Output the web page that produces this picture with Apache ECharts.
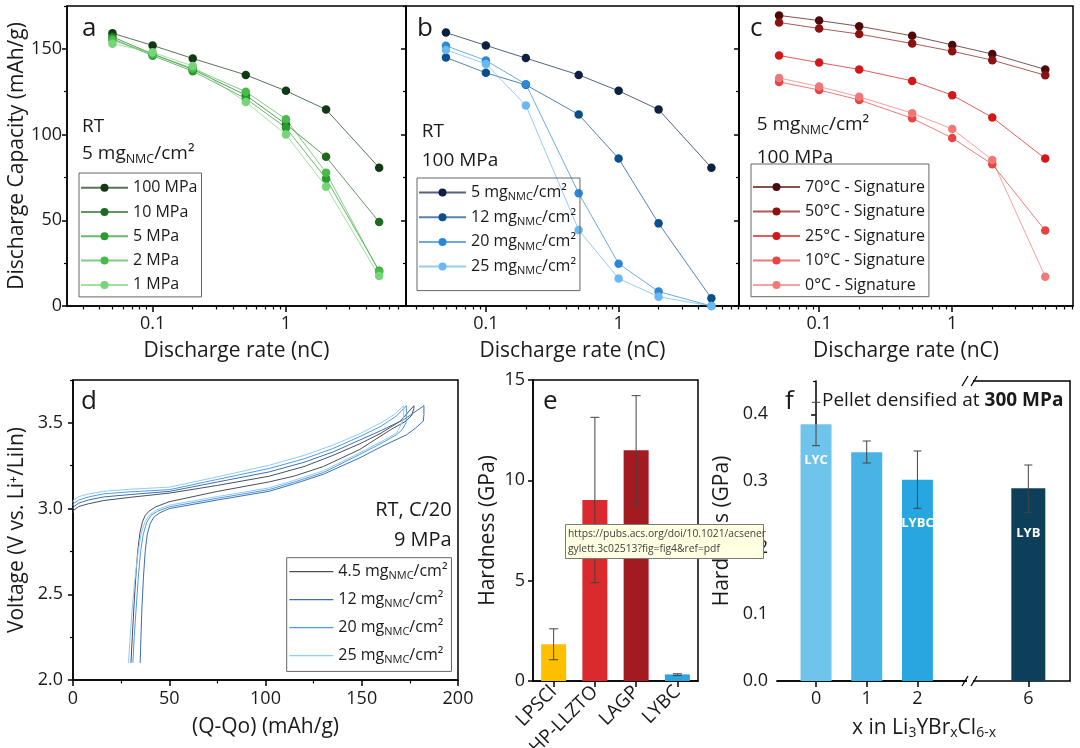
<!DOCTYPE html>
<html><head><meta charset="utf-8">
<script src="https://cdn.jsdelivr.net/npm/echarts@6/dist/echarts.min.js"></script>
<style>html,body{margin:0;padding:0;background:#fff}#c{width:1080px;height:748px}</style>
</head><body><div id="c"></div>
<script>
// ---------- DATA ----------
const rates = [0.05, 0.1, 0.2, 0.5, 1, 2, 5];
const rateTicks = [0.1, 1];
const rateMinorTicks = [0.03,0.04,0.05,0.06,0.07,0.08,0.09,0.2,0.3,0.4,0.5,0.6,0.7,0.8,0.9,2,3,4,5,6,7,8];
// panel a (pressure)
const aLabels = ['100 MPa','10 MPa','5 MPa','2 MPa','1 MPa'];
const a100 = [159.1,152,144.4,134.8,125.5,114.6,80.7];
const a10  = [157,147,138,123,106,87,49];
const a5   = [156,146,137,121,104,74.3,20.6];
const a2   = [155,147,138.5,125,109,77.8,20];
const a1   = [153,148,140,119,100,69.6,17.5];
// panel b (loading)
const bLabels = ['5','12','20','25'];
const b5  = [159.5,152,144.6,134.8,125.5,114.6,80.7];
const b12 = [145,136,129,111.7,86,48.2,4.5];
const b20 = [151.8,143.2,129.4,65.8,24.7,8.4,0];
const b25 = [149.4,141.2,117,44.4,16,5.4,0];
// panel c (temperature)
const cLabels = ['70°C - Signature','50°C - Signature','25°C - Signature','10°C - Signature','0°C - Signature'];
const c70 = [169.5,166.5,163.2,157.6,152.3,147,138];
const c50 = [165.4,161.9,158.6,153.1,148.6,143.4,134.6];
const c25 = [146.1,142,138,131.3,123,110,86];
const c10 = [130.7,126,120.2,109.5,98,82.7,44];
const c0  = [133,128,122,112.5,103.3,85.2,17.1];
const capTicks = [0,50,100,150];
const capMinor = [25,75,125,175];
// panel d (voltage profiles, [Q-Qo, V])
const dLabels = ['4.5','12','20','25'];
const d45 = [[0,2.975],[0.3,2.99],[1,3.0],[3,3.012],[8,3.028],[16,3.047],[30,3.066],[50,3.09],[75,3.135],[102,3.189],[120,3.245],[135,3.31],[149,3.378],[160,3.44],[170,3.51],[177.1,3.6],
 [177.1,3.585],[176,3.545],[173,3.51],[165,3.46],[149,3.345],[130,3.245],[115,3.19],[102,3.156],[75,3.1],[50,3.04],[43,3.01],[39.5,2.985],[37.5,2.96],[36,2.92],[34.8,2.86],[33.6,2.75],[32.6,2.6],[31.6,2.42],[30.8,2.25],[30.1,2.1]];
const d12 = [[0,2.995],[0.3,3.01],[1,3.02],[3,3.032],[8,3.05],[16,3.068],[30,3.082],[50,3.1],[75,3.155],[102,3.214],[120,3.27],[135,3.33],[149,3.4],[160,3.455],[172,3.52],[182.3,3.6],
 [182.3,3.55],[182,3.51],[178,3.47],[173.2,3.43],[160,3.36],[149,3.296],[130,3.2],[115,3.145],[102,3.101],[75,3.05],[50,3.0],[45,2.975],[42,2.95],[40,2.91],[38.6,2.85],[37.5,2.75],[36.6,2.6],[35.8,2.42],[35.3,2.25],[34.9,2.1]];
const d20 = [[0,3.015],[0.3,3.03],[1,3.04],[3,3.05],[8,3.068],[16,3.086],[30,3.098],[50,3.11],[75,3.17],[102,3.234],[120,3.29],[135,3.35],[149,3.42],[160,3.48],[168,3.54],[173.2,3.6],
 [173.2,3.56],[173,3.5],[171,3.46],[168,3.43],[160,3.38],[149,3.316],[130,3.21],[115,3.155],[102,3.111],[75,3.06],[50,3.01],[44,2.985],[40.5,2.96],[38.3,2.92],[36.5,2.85],[35,2.74],[33.8,2.58],[32.7,2.4],[31.8,2.25],[31.1,2.1]];
const d25 = [[0,3.035],[0.3,3.05],[1,3.06],[3,3.07],[8,3.085],[16,3.101],[30,3.113],[50,3.125],[75,3.185],[102,3.253],[120,3.31],[135,3.37],[149,3.437],[160,3.5],[167,3.55],[171.8,3.6],
 [171.8,3.57],[171.5,3.52],[170,3.48],[168,3.44],[160,3.39],[149,3.325],[130,3.22],[115,3.165],[102,3.121],[75,3.07],[50,3.02],[43,2.99],[39.5,2.96],[37.3,2.92],[35.3,2.85],[33.5,2.72],[31.8,2.55],[30.5,2.38],[29.5,2.22],[28.8,2.1]];
const dXTicks = [0,50,100,150,200];
const dXMinor = [25,75,125,175];
const dYTicks = [2.0,2.5,3.0,3.5];
const dYMinor = [2.25,2.75,3.25,3.75];
// panel e
const eCats = ['LPSCl','HP-LLZTO','LAGP','LYBC'];
const eVals = [1.83,9.02,11.5,0.33];
const eLo = [1.06,4.9,8.78,0.27];
const eHi = [2.6,13.14,14.22,0.36];
const eYTicks = [0,5,10,15];
// panel f
const fX1 = [0,1,2];
const fV1 = [0.385,0.343,0.302];
const fLo1 = [0.353,0.327,0.259];
const fHi1 = [0.418,0.36,0.345];
const fNames1 = ['LYC','','LYBC'];
const fX2 = [6];
const fV2 = [0.289];
const fLo2 = [0.253];
const fHi2 = [0.324];
const fNames2 = ['LYB'];
const fYTicks = [0,0.1,0.2,0.3,0.4];
const fYMinor = [0.05,0.15,0.25,0.35,0.45];

// ---------- STYLE ----------
const FONT = 'Open Sans';
const TXT = '#1a1a1a';
const aColors = ['#113a14','#1e6a22','#2b9b2e','#48bb4a','#78d47a'];
const bColors = ['#0c2140','#0b4f8d','#2b88d8','#68b9ef'];
const cColors = ['#4c0a0a','#8c1212','#d21818','#e64343','#f27878'];
const dColors = ['#4a4f5a','#3d6fae','#4c9de2','#94caf2'];
const eColors = ['#fdbf00','#da2a2d','#a31b20','#2ea3e0'];
const fColors1 = ['#6fc4ec','#49b3e6','#28a6e0'];
const fColors2 = ['#0d3f5b'];

const grids = [], xAxes = [], yAxes = [], series = [], legends = [], graphics = [];
const AX = {show:true, lineStyle:{color:'#000', width:1.5}};
function grid(l,t,w,h,border){grids.push({left:l,top:t,width:w,height:h,show:border,borderColor:'#000',borderWidth:1.5,containLabel:false,outerBoundsMode:'none'});return grids.length-1;}
function nameStyle(){return {fontSize:21,color:TXT,fontFamily:FONT};}
function lab(extra){return Object.assign({show:true,fontSize:18,color:TXT,fontFamily:FONT},extra);}
function tickAxis(list, base, major, minor, majorLen, minorLen){
  const m = Object.assign({}, base, {axisTick:{show:true,length:majorLen,lineStyle:{color:'#000',width:1.5},customValues:major,alignWithLabel:true}});
  list.push(m); const idx = list.length-1;
  if (minor) {
    list.push({type:base.type, logBase:base.logBase, gridIndex:base.gridIndex, min:base.min, max:base.max, position:base.position,
      axisLine:{show:false}, axisLabel:{show:false}, splitLine:{show:false},
      axisTick:{show:true,length:minorLen,lineStyle:{color:'#000',width:1.2},customValues:minor}});
  }
  return idx;
}
function logX(g,min,max){
  return tickAxis(xAxes,{type:'log',logBase:10,gridIndex:g,min,max,position:'bottom',axisLine:AX,splitLine:{show:false},
    axisLabel:lab({customValues:rateTicks,margin:9,formatter:v=>String(+(+v).toPrecision(3))}),
    name:'Discharge rate (nC)',nameLocation:'middle',nameGap:35,nameMoveOverlap:false,nameTextStyle:nameStyle()},rateTicks,rateMinorTicks,6,3.5);
}
function capY(g,withLabels){
  const base={type:'value',gridIndex:g,min:0,max:175,position:'left',axisLine:AX,splitLine:{show:false},
    axisLabel:lab({show:withLabels,customValues:capTicks,margin:5})};
  if(withLabels){Object.assign(base,{name:'Discharge Capacity (mAh/g)',nameLocation:'middle',nameGap:39,nameMoveOverlap:false,nameTextStyle:nameStyle()});}
  return tickAxis(yAxes,base,capTicks,capMinor,5,3);
}
function rateSeries(key,xi,yi,vals,color){
  series.push({type:'line',name:key,xAxisIndex:xi,yAxisIndex:yi,data:rates.map((r,i)=>[r,vals[i]]),
    symbol:'circle',symbolSize:8.5,itemStyle:{color},lineStyle:{color,width:1,opacity:0.7},emphasis:{disabled:true},z:3});
}
function errSeries(xi,yi,data,cap,color){
  series.push({type:'custom',xAxisIndex:xi,yAxisIndex:yi,data,encode:{x:0,y:[1,2]},z:6,silent:true,
    renderItem:(p,api)=>{const x=api.value(0),lo=api.value(1),hi=api.value(2);
      const a=api.coord([x,lo]),b=api.coord([x,hi]);const st={stroke:color,lineWidth:1};
      return {type:'group',children:[
        {type:'line',shape:{x1:a[0],y1:a[1],x2:b[0],y2:b[1]},style:st},
        {type:'line',shape:{x1:a[0]-cap,y1:a[1],x2:a[0]+cap,y2:a[1]},style:st},
        {type:'line',shape:{x1:b[0]-cap,y1:b[1],x2:b[0]+cap,y2:b[1]},style:st}]};}});
}
const subRich = {n:{fontSize:16,lineHeight:20,fontFamily:FONT,color:TXT},s:{fontSize:11,lineHeight:10,verticalAlign:'bottom',fontFamily:FONT,color:TXT}};
function legend(cfg){legends.push(Object.assign({orient:'vertical',selectedMode:false,borderColor:'#666',borderWidth:1,
  itemWidth:47,itemHeight:10,textStyle:{fontSize:16,lineHeight:20,color:TXT,fontFamily:FONT,rich:subRich}},cfg));}
function txt(x,y,text,o){graphics.push({type:'text',x,y,z:50,silent:true,style:Object.assign({text,fontSize:19,fontFamily:FONT,fill:TXT,
  align:'left',verticalAlign:'middle',textAlign:'left',textVerticalAlign:'middle',lineHeight:24,
  rich:{s:{fontSize:12.5,lineHeight:10,verticalAlign:'bottom',fontFamily:FONT,fill:TXT,color:TXT},
        s2:{fontSize:14,lineHeight:10,verticalAlign:'bottom',fontFamily:FONT,fill:TXT,color:TXT},
        b:{fontSize:19,fontWeight:'bold',fontFamily:FONT,fill:TXT,color:TXT,lineHeight:24}}},o||{})});}

// ---------- PANEL a ----------
const ga = grid(67,6,339,300,true);
const xa = logX(ga,0.0228,7.95), ya = capY(ga,true);
const aKeys = ['a100','a10','a5','a2','a1'];
[a100,a10,a5,a2,a1].forEach((v,i)=>rateSeries(aKeys[i],xa,ya,v,aColors[i]));
legend({left:79,top:173,data:aKeys,itemGap:8.3,padding:[6.7,4,4,1],textStyle:{fontSize:16,lineHeight:16,color:TXT,fontFamily:FONT},
  formatter:n=>aLabels[aKeys.indexOf(n)]});
// ---------- PANEL b ----------
const gb = grid(406,6,333,300,true);
const xb = logX(gb,0.025,8.07), yb = capY(gb,false);
const bKeys = ['b5','b12','b20','b25'];
[b5,b12,b20,b25].forEach((v,i)=>rateSeries(bKeys[i],xb,yb,v,bColors[i]));
legend({left:417,top:178,data:bKeys,itemGap:4.7,padding:[4.5,4,14,1],
  formatter:n=>bLabels[bKeys.indexOf(n)]+' mg{s|NMC}/cm²'});
// ---------- PANEL c ----------
const gc = grid(739,6,334,300,true);
const xc = logX(gc,0.025,8.08), yc = capY(gc,false);
const cKeys = ['c70','c50','c25','c10','c0'];
[c70,c50,c25,c10,c0].forEach((v,i)=>rateSeries(cKeys[i],xc,yc,v,cColors[i]));
legend({left:751,top:164,data:cKeys,itemGap:8.5,padding:[15,4,3.7,1],textStyle:{fontSize:16,lineHeight:16,color:TXT,fontFamily:FONT},
  formatter:n=>cLabels[cKeys.indexOf(n)]});
// ---------- PANEL d ----------
const gd = grid(73,380,385,300,true);
const xd = tickAxis(xAxes,{type:'value',gridIndex:gd,min:0,max:200,position:'bottom',axisLine:AX,splitLine:{show:false},
  axisLabel:lab({customValues:dXTicks,margin:10}),name:'(Q-Qo) (mAh/g)',nameLocation:'middle',nameGap:37,nameMoveOverlap:false,nameTextStyle:nameStyle()},dXTicks,dXMinor,6,3.5);
const yd = tickAxis(yAxes,{type:'value',gridIndex:gd,min:2,max:3.75,position:'left',axisLine:AX,splitLine:{show:false},
  axisLabel:lab({customValues:dYTicks,margin:10,formatter:v=>(+v).toFixed(1)}),name:'Voltage (V vs. Li⁺/LiIn)',nameLocation:'middle',nameGap:45,nameMoveOverlap:false,nameTextStyle:nameStyle()},dYTicks,dYMinor,5,3);
const dKeys = ['d45','d12','d20','d25'];
[d45,d12,d20,d25].forEach((v,i)=>series.push({type:'line',name:dKeys[i],xAxisIndex:xd,yAxisIndex:yd,data:v,showSymbol:false,symbol:'none',
  lineStyle:{color:dColors[i],width:1},itemStyle:{color:dColors[i]},emphasis:{disabled:true},z:3}));
legend({left:286.7,top:557.7,data:dKeys,itemGap:8,itemWidth:44,itemHeight:1.2,icon:'rect',padding:[4,4,5.7,2.6],
  formatter:n=>dLabels[dKeys.indexOf(n)]+' mg{s|NMC}/cm²'});
// ---------- PANEL e ----------
const ge = grid(533,380,165,301,true);
xAxes.push({type:'category',gridIndex:ge,data:eCats,position:'bottom',axisLine:AX,
  axisTick:{show:true,alignWithLabel:true,length:6,lineStyle:{color:'#000',width:1.5}},
  axisLabel:lab({rotate:45,margin:8,fontSize:19,interval:0})});
const xe = xAxes.length-1;
yAxes.push({type:'value',gridIndex:ge,min:0,max:15,interval:5,position:'left',axisLine:AX,splitLine:{show:false},
  axisTick:{show:true,length:5,lineStyle:{color:'#000',width:1.5}},axisLabel:lab({margin:8}),
  name:'Hardness (GPa)',nameLocation:'middle',nameGap:34,nameMoveOverlap:false,nameTextStyle:nameStyle()});
const ye = yAxes.length-1;
series.push({type:'bar',xAxisIndex:xe,yAxisIndex:ye,barWidth:25,data:eVals.map((v,i)=>({value:v,itemStyle:{color:eColors[i]}})),z:2});
errSeries(xe,ye,eCats.map((c,i)=>[i,eLo[i],eHi[i]]),4.5,'#444');
// ---------- PANEL f ----------
const gf1 = grid(777,381,193,300,false), gf2 = grid(970,381,100,300,false);
xAxes.push({type:'value',gridIndex:gf1,min:-0.77,max:3.037,position:'bottom',axisLine:AX,splitLine:{show:false},
  axisTick:{show:true,length:6,lineStyle:{color:'#000',width:1.5},customValues:fX1},axisLabel:lab({customValues:fX1,margin:9})});
const xf1 = xAxes.length-1;
xAxes.push({type:'value',gridIndex:gf1,min:-0.77,max:3.037,position:'top',axisLine:AX,axisTick:{show:false},axisLabel:{show:false},splitLine:{show:false}});
xAxes.push({type:'value',gridIndex:gf2,min:4.85,max:6.822,position:'bottom',axisLine:AX,splitLine:{show:false},
  axisTick:{show:true,length:6,lineStyle:{color:'#000',width:1.5},customValues:fX2},axisLabel:lab({customValues:fX2,margin:9})});
const xf2 = xAxes.length-1;
xAxes.push({type:'value',gridIndex:gf2,min:4.85,max:6.822,position:'top',axisLine:AX,axisTick:{show:false},axisLabel:{show:false},splitLine:{show:false}});
const yf1 = tickAxis(yAxes,{type:'value',gridIndex:gf1,min:0,max:0.45,position:'left',axisLine:AX,splitLine:{show:false},
  axisLabel:lab({customValues:fYTicks,margin:9,formatter:v=>(+v).toFixed(1)}),name:'Hardness (GPa)',nameLocation:'middle',nameGap:44,nameMoveOverlap:false,nameTextStyle:nameStyle()},fYTicks,fYMinor,5,3);
yAxes.push({type:'value',gridIndex:gf2,min:0,max:0.45,position:'right',axisLine:AX,axisTick:{show:false},axisLabel:{show:false},splitLine:{show:false}});
const yf2 = yAxes.length-1;
const fLabelDist1 = [29,0,37], fLabelDist2 = [38.5];
series.push({type:'bar',xAxisIndex:xf1,yAxisIndex:yf1,barWidth:31,z:2,
  data:fX1.map((x,i)=>({value:[x,fV1[i]],itemStyle:{color:fColors1[i]},
    label:{show:!!fNames1[i],position:'insideTop',distance:fLabelDist1[i],formatter:fNames1[i],color:'#fff',fontWeight:'bold',fontSize:13,fontFamily:FONT}}))});
series.push({type:'bar',xAxisIndex:xf2,yAxisIndex:yf2,barWidth:34,z:2,
  data:fX2.map((x,i)=>({value:[x,fV2[i]],itemStyle:{color:fColors2[i]},
    label:{show:true,position:'insideTop',distance:fLabelDist2[i],formatter:fNames2[i],color:'#fff',fontWeight:'bold',fontSize:13,fontFamily:FONT}}))});
errSeries(xf1,yf1,fX1.map((x,i)=>[x,fLo1[i],fHi1[i]]),4,'#444');
errSeries(xf2,yf2,fX2.map((x,i)=>[x,fLo2[i],fHi2[i]]),4,'#444');
// axis break marks
[381,681].forEach(y=>{
  graphics.push({type:'rect',z:60,silent:true,shape:{x:967,y:y-6,width:6,height:12},style:{fill:'#fff'}});
  graphics.push({type:'line',z:61,silent:true,shape:{x1:962,y1:y+5,x2:968,y2:y-5},style:{stroke:'#000',lineWidth:1.3}});
  graphics.push({type:'line',z:61,silent:true,shape:{x1:971,y1:y+5,x2:977,y2:y-5},style:{stroke:'#000',lineWidth:1.3}});
});

// ---------- TEXTS ----------
txt(82,29,'a',{fontSize:26});
txt(417,29,'b',{fontSize:26});
txt(750,29,'c',{fontSize:26});
txt(81,402,'d',{fontSize:26});
txt(543,402,'e',{fontSize:26});
txt(785,402,'f',{fontSize:26});
txt(82,126.5,'RT');
txt(82,154,'5 mg{s|NMC}/cm²');
txt(421.7,131.5,'RT');
txt(421.7,161,'100 MPa');
txt(756.7,125,'5 mg{s|NMC}/cm²');
txt(756.7,157.5,'100 MPa');
txt(451.7,510.5,'RT, C/20',{align:'right',textAlign:'right',fontSize:20});
txt(451.7,540.5,'9 MPa',{align:'right',textAlign:'right',fontSize:20});
txt(822,401,'Pellet densified at {b|300 MPa}',{fontSize:19});
txt(924,728,'x in Li{s2|3}YBr{s2|x}Cl{s2|6-x}',{fontSize:21,align:'center',textAlign:'center'});
// browser tooltip overlay seen in the reference
graphics.push({type:'rect',z:90,silent:true,shape:{x:565.5,y:524.5,width:198,height:34},style:{fill:'#ffffe1',stroke:'#7a7a7a',lineWidth:1}});
txt(568,534,'https://pubs.acs.org/doi/10.1021/acsener',{fontSize:10.3,fill:'#404040'});
txt(568,549,'gylett.3c02513?fig=fig4&ref=pdf',{fontSize:10.3,fill:'#404040'});
graphics[graphics.length-1].z=91; graphics[graphics.length-2].z=91;

const chart = echarts.init(document.getElementById('c'),null,{renderer:'canvas',width:1080,height:748});
chart.setOption({animation:false,backgroundColor:'#fff',textStyle:{fontFamily:FONT},
  grid:grids,xAxis:xAxes,yAxis:yAxes,series,legend:legends,graphic:graphics,tooltip:{show:false}});
</script></body></html>
